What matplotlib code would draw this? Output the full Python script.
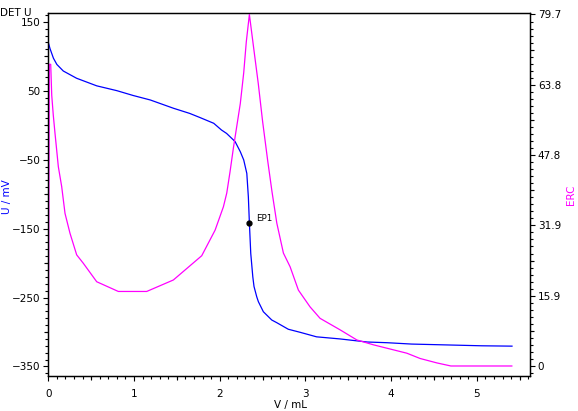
import numpy as np
import matplotlib
matplotlib.use("Agg")
import matplotlib.pyplot as plt
from matplotlib.ticker import MultipleLocator, FixedLocator, NullFormatter

# titration curve, U / mV against V / mL
vol_u = [0.0, 0.02, 0.06, 0.10, 0.175, 0.33, 0.565, 0.80, 0.99, 1.19, 1.46, 1.65,
         1.77, 1.93, 2.02, 2.08, 2.16, 2.18, 2.24, 2.28, 2.316, 2.334, 2.346, 2.362,
         2.386, 2.40, 2.432, 2.451, 2.509, 2.607, 2.666, 2.80, 2.94, 3.13, 3.40,
         3.72, 3.95, 4.24, 4.57, 5.06, 5.41]
u_mv = [120, 111, 97, 88, 78.5, 68, 57, 50, 43, 36.5, 24.5, 17,
        11, 2.7, -7, -12, -21.5, -24, -38.5, -50.5, -70, -104, -141.5, -186,
        -220, -234, -249, -256, -270.6, -282.6, -286.5, -296, -300.5, -307, -310,
        -314.5, -315.5, -317.5, -318.5, -320, -320.5]

# ERC curve
vol_erc = [0.0, 0.012, 0.028, 0.040, 0.058, 0.078, 0.117, 0.156, 0.195, 0.253,
           0.331, 0.408, 0.565, 0.817, 1.148, 1.459, 1.79, 1.946, 2.043, 2.082,
           2.12, 2.16, 2.20, 2.24, 2.28, 2.31, 2.346,
           2.40, 2.45, 2.50, 2.56, 2.61, 2.666,
           2.743, 2.821, 2.918, 3.054, 3.171, 3.404, 3.600, 3.793, 4.183, 4.338,
           4.533, 4.697, 5.408]
erc = [0, 68.4, 68.4, 61.4, 56.9, 52.8, 45.2, 40.7, 34.6, 30.1,
       25.2, 23.3, 19.1, 16.9, 16.9, 19.5, 25.0, 30.8, 36.1, 39.2,
       44.0, 49.5, 54.5, 59.5, 66.5, 73.5, 79.7,
       71.5, 64.0, 55.5, 46.5, 39.5, 32.4,
       25.6, 22.5, 17.2, 13.4, 10.8, 8.2, 5.9, 4.8, 2.9, 1.7,
       0.7, 0, 0]

ep_vol = 2.346
ep_u = -141.5

u_ticks = [150, 50, -50, -150, -250, -350]
erc_ticks = [0, 15.94, 31.88, 47.82, 63.76, 79.7]
erc_labels = ["0", "15.9", "31.9", "47.8", "63.8", "79.7"]

W, H = 578, 411
fig = plt.figure(figsize=(W / 100, H / 100), dpi=100)
ax = fig.add_axes([48.3 / W, 35 / H, (530 - 48.3) / W, (376 - 13.3) / H])
ax2 = ax.twinx()

fs = 7.5
blue = "#0000ff"
mag = "#ff00ff"

ax.plot(vol_u, u_mv, color=blue, lw=0.9)
ax.plot([ep_vol], [ep_u], "o", color="black", ms=3.5)
ax.annotate("EP1", (ep_vol, ep_u), xytext=(4.6, 3.2), textcoords="offset points",
            fontsize=6.3, va="center", ha="left")
ax2.plot(vol_erc, erc, color=mag, lw=0.9)

ax.set_xlim(0, 5.62)
ax.set_ylim(-363.8, 162.2)
ax2.set_ylim(-2.27, 79.97)

for a in (ax, ax2):
    for s in a.spines.values():
        s.set_linewidth(0.9)

ax.xaxis.set_major_locator(MultipleLocator(1))
ax.xaxis.set_minor_locator(MultipleLocator(0.1))
ax.yaxis.set_major_locator(FixedLocator(u_ticks))
ax.yaxis.set_minor_locator(MultipleLocator(10))
ax2.yaxis.set_major_locator(FixedLocator(erc_ticks))
ax2.set_yticklabels(erc_labels)
ax2.yaxis.set_minor_locator(MultipleLocator(79.7 / 50))

ax.tick_params(which="major", length=3.6, width=0.8, labelsize=fs, pad=2)
ax.tick_params(which="minor", length=2.0, width=0.8)
ax.tick_params(axis="x", pad=6)
ax2.tick_params(which="major", length=3.6, width=0.8, labelsize=fs, pad=2)
ax2.tick_params(which="minor", length=2.0, width=0.8)

# medium ticks halfway between labelled ones
sec_l = ax.secondary_yaxis("left")
sec_l.set_yticks([100, 0, -100, -200, -300])
sec_l.yaxis.set_major_formatter(NullFormatter())
sec_l.tick_params(length=2.9, width=0.8)
sec_l.spines["left"].set_visible(False)

sec_r = ax2.secondary_yaxis("right")
sec_r.set_yticks([7.97, 23.91, 39.85, 55.79, 71.73])
sec_r.yaxis.set_major_formatter(NullFormatter())
sec_r.tick_params(length=2.9, width=0.8)
sec_r.spines["right"].set_visible(False)

sec_x = ax.secondary_xaxis("bottom")
sec_x.set_xticks([0.5, 1.5, 2.5, 3.5, 4.5, 5.5])
sec_x.xaxis.set_major_formatter(NullFormatter())
sec_x.tick_params(length=2.9, width=0.8)
sec_x.spines["bottom"].set_visible(False)

fig.text(0 / W, 1 - 13 / H, "DET U", fontsize=fs, ha="left", va="center")
fig.text(7 / W, 1 - 197 / H, "U / mV", fontsize=fs, color=blue, rotation=90,
         ha="center", va="center")
fig.text(571 / W, 1 - 195 / H, "ERC", fontsize=fs, color=mag, rotation=90,
         ha="center", va="center")
fig.text(290 / W, 1 - 405 / H, "V / mL", fontsize=fs, ha="center", va="center")

fig.savefig("out.png", dpi=100)
